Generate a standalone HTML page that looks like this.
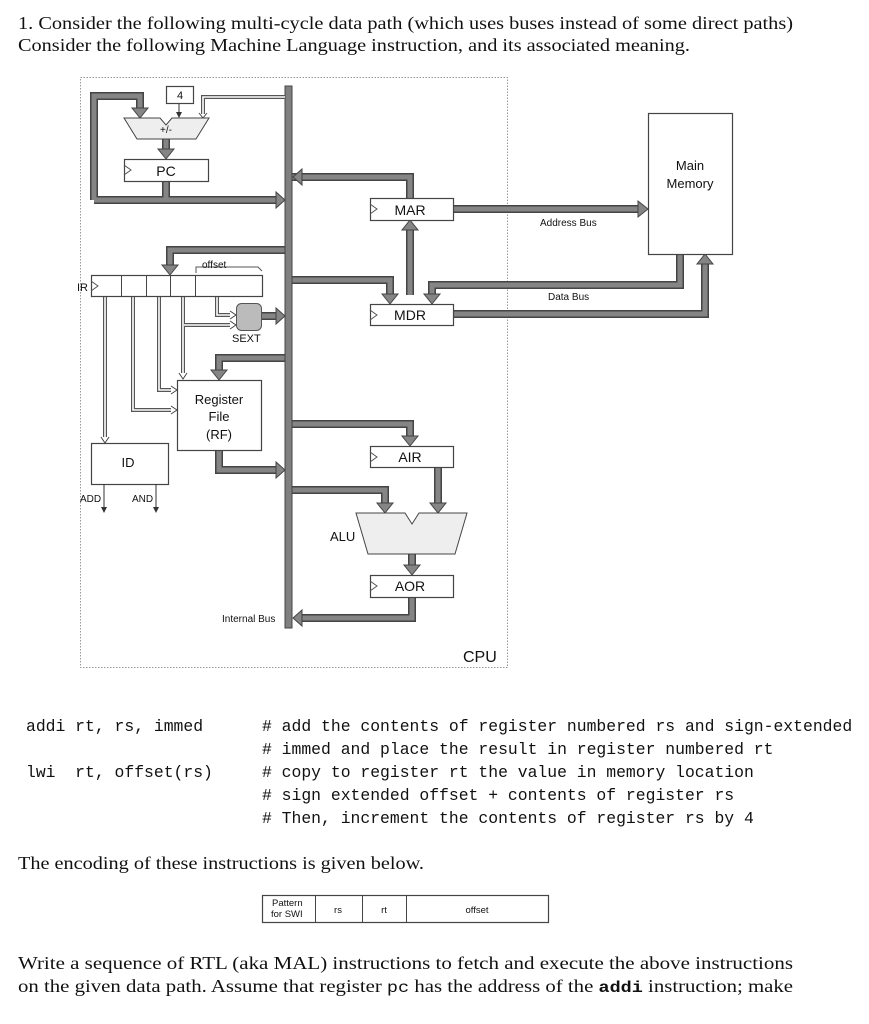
<!DOCTYPE html>
<html><head><meta charset="utf-8"><style>
html,body{margin:0;padding:0;background:#fff;}
svg{display:block}
.serif{font-family:"Liberation Serif",serif;fill:#111}
.mono{font-family:"Liberation Mono",monospace;fill:#111;font-size:16.4px;white-space:pre}
.sans{font-family:"Liberation Sans",sans-serif;fill:#111}
.tk{fill:none;stroke:#444;stroke-width:8;stroke-linejoin:miter}
.tl{fill:none;stroke:#858585;stroke-width:5;stroke-linejoin:miter}
.ah{fill:#858585;stroke:#444;stroke-width:1}
.dk{fill:none;stroke:#555;stroke-width:4}
.dl{fill:none;stroke:#fff;stroke-width:1.6}
.box{fill:#fff;stroke:#444;stroke-width:1.2}
</style></head><body>
<svg width="869" height="1024" viewBox="0 0 869 1024" xml:space="preserve">
<text class="serif" x="18" y="29" font-size="18" textLength="775" lengthAdjust="spacingAndGlyphs">1. Consider the following multi-cycle data path (which uses buses instead of some direct paths)</text>
<text class="serif" x="18" y="51" font-size="18" textLength="672" lengthAdjust="spacingAndGlyphs">Consider the following Machine Language instruction, and its associated meaning.</text>

<rect x="80.5" y="77.5" width="427" height="590" fill="none" stroke="#999" stroke-width="1" stroke-dasharray="1.5,1.5"/>

<g>
<path class="tk" d="M166 181 V200 M94 200 H277 M94 200 V96 H140 V108 M166 138 V149 M292 177 H410 V198 M410 295 V230 M292 280 H390 V294 M680 254 V285 H432 V294 M453 209 H638 M453 314 H705 V264 M292 250 H170 V265 M261 316 H277 M292 358 H219 V370 M219 450 V470 H277 M292 424 H410 V436 M292 490 H385 V503 M438 467 V503 M412 554 V565 M412 597 V618 H302"/>
<path class="tl" d="M166 181 V200 M94 200 H277 M94 200 V96 H140 V108 M166 138 V149 M292 177 H410 V198 M410 295 V230 M292 280 H390 V294 M680 254 V285 H432 V294 M453 209 H638 M453 314 H705 V264 M292 250 H170 V265 M261 316 H277 M292 358 H219 V370 M219 450 V470 H277 M292 424 H410 V436 M292 490 H385 V503 M438 467 V503 M412 554 V565 M412 597 V618 H302"/>
<polygon class="ah" points="276,192 285,200 276,208"/>
<polygon class="ah" points="132,108 148,108 140,118"/>
<polygon class="ah" points="158,149 174,149 166,159"/>
<polygon class="ah" points="302,169 293,177 302,185"/>
<polygon class="ah" points="402,230 418,230 410,220"/>
<polygon class="ah" points="382,294 398,294 390,304"/>
<polygon class="ah" points="424,294 440,294 432,304"/>
<polygon class="ah" points="638,201 648,209 638,217"/>
<polygon class="ah" points="697,264 713,264 705,254"/>
<polygon class="ah" points="162,265 178,265 170,275"/>
<polygon class="ah" points="276,308 285,316 276,324"/>
<polygon class="ah" points="211,370 227,370 219,380"/>
<polygon class="ah" points="276,462 285,470 276,478"/>
<polygon class="ah" points="402,436 418,436 410,446"/>
<polygon class="ah" points="377,503 393,503 385,513"/>
<polygon class="ah" points="430,503 446,503 438,513"/>
<polygon class="ah" points="404,565 420,565 412,575"/>
<polygon class="ah" points="302,610 293,618 302,626"/>
</g>

<rect x="285" y="86" width="7" height="542" fill="#808080" stroke="#444" stroke-width="1"/>

<path class="dk" d="M285 97 H203 V114 M105 296 V437 M133 296 V410 H171 M159 296 V390 H171 M183 296 V373 M184 325 H230 M217 296 V315 H230"/>
<path class="dl" d="M285 97 H203 V114 M105 296 V437 M133 296 V410 H171 M159 296 V390 H171 M183 296 V373 M184 325 H230 M217 296 V315 H230"/>
<g fill="none" stroke="#444" stroke-width="1">
<path d="M199 113 L203 118 L207 113"/><path d="M101 437 L105 443 L109 437"/>
<path d="M171 406 L177 410 L171 414"/><path d="M171 386 L177 390 L171 394"/>
<path d="M179 373 L183 379 L187 373"/><path d="M230 321 L236 325 L230 329"/><path d="M230 311 L236 315 L230 319"/>
</g>
<line x1="179" y1="103" x2="179" y2="113" stroke="#333" stroke-width="1"/>
<polygon points="176,112 182,112 179,118" fill="#333"/>

<polygon points="124,118 160,118 166,125 172,118 209,118 196,139 137,139" fill="#eee" stroke="#444" stroke-width="1"/>
<text class="sans" x="166" y="133" font-size="10" text-anchor="middle" fill="#666">+/-</text>
<rect class="box" x="166.5" y="86.5" width="27" height="17"/>
<text class="sans" x="180" y="99" font-size="11" text-anchor="middle">4</text>

<rect class="box" x="124.5" y="159.5" width="84" height="22"/>
<path d="M124 165 L131 170 L124 175" fill="none" stroke="#555"/>
<text class="sans" x="166" y="176" font-size="14" text-anchor="middle">PC</text>

<g>
<rect class="box" x="370.5" y="198.5" width="83" height="22"/><path d="M370 204 L377 209 L370 214" fill="none" stroke="#555"/>
<text class="sans" x="410" y="215" font-size="14" text-anchor="middle">MAR</text>
<rect class="box" x="370.5" y="304.5" width="83" height="21"/><path d="M370 310 L377 315 L370 320" fill="none" stroke="#555"/>
<text class="sans" x="410" y="320" font-size="14" text-anchor="middle">MDR</text>
<rect class="box" x="370.5" y="446.5" width="83" height="21"/><path d="M370 452 L377 457 L370 462" fill="none" stroke="#555"/>
<text class="sans" x="410" y="462" font-size="14" text-anchor="middle">AIR</text>
<rect class="box" x="370.5" y="575.5" width="83" height="22"/><path d="M370 581 L377 586 L370 591" fill="none" stroke="#555"/>
<text class="sans" x="410" y="591" font-size="14" text-anchor="middle">AOR</text>
</g>

<rect class="box" x="648.5" y="113.5" width="84" height="141"/>
<text class="sans" x="690" y="170" font-size="13" text-anchor="middle">Main</text>
<text class="sans" x="690" y="188" font-size="13" text-anchor="middle">Memory</text>
<text class="sans" x="540" y="226" font-size="10">Address Bus</text>
<text class="sans" x="548" y="300" font-size="10">Data Bus</text>

<path d="M196 273 V267 H258 L262 271" fill="none" stroke="#555" stroke-width="1"/>
<text class="sans" x="202" y="268" font-size="10">offset</text>
<rect class="box" x="91.5" y="275.5" width="171" height="21"/>
<g stroke="#444" stroke-width="1"><line x1="121.5" y1="275" x2="121.5" y2="296"/><line x1="146.5" y1="275" x2="146.5" y2="296"/><line x1="170.5" y1="275" x2="170.5" y2="296"/><line x1="195.5" y1="275" x2="195.5" y2="296"/></g>
<path d="M91 281 L98 286 L91 291" fill="none" stroke="#555"/>
<text class="sans" x="77" y="291" font-size="11">IR</text>

<rect x="236.5" y="303.5" width="25" height="27" rx="5" fill="#bbb" stroke="#555"/>
<text class="sans" x="232" y="342" font-size="11">SEXT</text>

<rect class="box" x="177.5" y="380.5" width="84" height="70"/>
<text class="sans" x="219" y="404" font-size="13" text-anchor="middle">Register</text>
<text class="sans" x="219" y="421" font-size="13" text-anchor="middle">File</text>
<text class="sans" x="219" y="439" font-size="13" text-anchor="middle">(RF)</text>

<rect class="box" x="91.5" y="443.5" width="77" height="41"/>
<text class="sans" x="128" y="467" font-size="13" text-anchor="middle">ID</text>
<g stroke="#333" stroke-width="1"><line x1="104" y1="484" x2="104" y2="508"/><line x1="156" y1="484" x2="156" y2="508"/></g>
<polygon points="101,507 107,507 104,513" fill="#333"/><polygon points="153,507 159,507 156,513" fill="#333"/>
<text class="sans" x="80" y="502" font-size="10">ADD</text>
<text class="sans" x="132" y="502" font-size="10">AND</text>

<polygon points="356,513 405,513 412,524 419,513 467,513 455,554 368,554" fill="#eee" stroke="#444" stroke-width="1"/>
<text class="sans" x="330" y="541" font-size="13">ALU</text>
<text class="sans" x="222" y="622" font-size="10">Internal Bus</text>
<text class="sans" x="463" y="662" font-size="16">CPU</text>

<text class="mono" x="26" y="731">addi rt, rs, immed</text>
<text class="mono" x="26" y="777">lwi&#160;&#160;rt, offset(rs)</text>
<text class="mono" x="262" y="731"># add the contents of register numbered rs and sign-extended</text>
<text class="mono" x="262" y="754"># immed and place the result in register numbered rt</text>
<text class="mono" x="262" y="777"># copy to register rt the value in memory location</text>
<text class="mono" x="262" y="800"># sign extended offset + contents of register rs</text>
<text class="mono" x="262" y="823"># Then, increment the contents of register rs by 4</text>

<text class="serif" x="18" y="869" font-size="18" textLength="406" lengthAdjust="spacingAndGlyphs">The encoding of these instructions is given below.</text>

<rect class="box" x="262.5" y="895.5" width="286" height="27"/>
<g stroke="#444" stroke-width="1"><line x1="315.5" y1="895" x2="315.5" y2="922"/><line x1="362.5" y1="895" x2="362.5" y2="922"/><line x1="406.5" y1="895" x2="406.5" y2="922"/></g>
<text class="sans" x="272" y="906" font-size="9.5">Pattern</text>
<text class="sans" x="271" y="917" font-size="9.5">for SWI</text>
<text class="sans" x="338" y="913" font-size="9.5" text-anchor="middle">rs</text>
<text class="sans" x="384" y="913" font-size="9.5" text-anchor="middle">rt</text>
<text class="sans" x="477" y="913" font-size="9.5" text-anchor="middle">offset</text>

<text class="serif" x="18" y="969" font-size="18" textLength="775" lengthAdjust="spacingAndGlyphs">Write a sequence of RTL (aka MAL) instructions to fetch and execute the above instructions</text>
<text class="serif" x="18" y="992" font-size="18" textLength="775" lengthAdjust="spacingAndGlyphs">on the given data path. Assume that register <tspan font-family="Liberation Mono" font-size="16">pc</tspan> has the address of the <tspan font-family="Liberation Mono" font-size="16" font-weight="bold">addi</tspan> instruction; make</text>
</svg>
</body></html>
